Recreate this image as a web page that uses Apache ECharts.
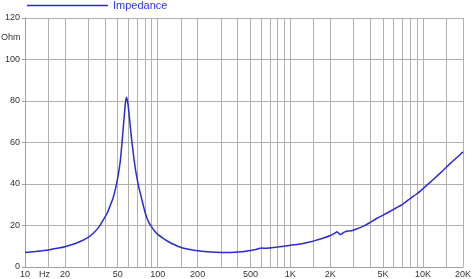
<!DOCTYPE html>
<html>
<head>
<meta charset="utf-8">
<script src="https://cdn.jsdelivr.net/npm/echarts@6/dist/echarts.min.js"></script>
<style>
html,body{margin:0;padding:0;background:#fff;}
#c{width:474px;height:279px;}
</style>
</head>
<body>
<div id="c"></div>
<script>
// Frequencies (Hz) and impedance (Ohm)
const freqs = [10,12,15,17.5,20,25,30,33,36,39,42,44,46,48,50,52,53,54,55,56,57,58,59,60,61,62,63,64,66,68,70,72,75,78,81,85,90,95,100,110,120,135,150,175,200,250,300,350,400,450,500,550,580,610,650,700,800,900,1000,1200,1400,1600,1800,2000,2150,2250,2330,2400,2550,2700,2900,3200,3600,4000,4500,5000,6000,7000,8000,9000,10000,12000,14000,16000,18000,20000];
const impedance = [7.0,7.5,8.2,9.0,9.8,11.8,14.3,16.5,19.2,22.8,26.5,29.8,33,37.5,43,50,55,61,67,73,78.5,81.8,80.5,77.5,73,68.5,64,60,53,47,42.5,38.5,34,29.5,25.5,22,19.3,17.2,15.7,13.8,12.3,10.6,9.4,8.4,7.8,7.2,7.0,7.0,7.2,7.5,8.0,8.4,8.9,9.1,9.0,9.2,9.6,10.0,10.5,11.1,12.0,13.1,14.1,15.2,16.2,17.0,16.0,15.7,16.8,17.3,17.5,18.5,19.8,21.5,23.5,25,27.8,30.2,33,35.3,37.8,42.3,46.3,49.8,52.8,55.5];
const gridFreqs = [10,15,20,30,40,50,60,70,80,90,100,150,200,300,400,500,600,700,800,900,1000,1500,2000,3000,4000,5000,6000,7000,8000,9000,10000,15000,20000];
const xLabelValues = [10,14,20,50,100,200,500,1000,2000,5000,10000,20000];
const xLabelTexts = ['10','Hz','20','50','100','200','500','1K','2K','5K','10K','20K'];
const yTicks = [0,20,40,60,80,100,120];
const seriesName = 'Impedance';
const yUnit = 'Ohm';

const chart = echarts.init(document.getElementById('c'), null, {renderer:'canvas'});
const data = freqs.map((f,i)=>[f, impedance[i]]);
function labelFor(v){
  let best=0, bd=Infinity;
  xLabelValues.forEach((x,i)=>{const d=Math.abs(Math.log10(x)-Math.log10(v)); if(d<bd){bd=d;best=i;}});
  return bd<0.01 ? xLabelTexts[best] : '';
}
const font = 'Liberation Sans, Arial, sans-serif';
chart.setOption({
  animation:false,
  backgroundColor:'#fff',
  textStyle:{fontFamily:font},
  grid:{left:25,right:7,top:18,bottom:12,containLabel:false},
  legend:{
    show:true,left:27,top:0,padding:0,
    icon:'rect',itemWidth:81,itemHeight:1.5,itemGap:5,
    textStyle:{color:'#3333ee',fontSize:11,fontFamily:font,padding:[1,0,0,0]},
    data:[seriesName]
  },
  xAxis:{
    type:'log',logBase:10,min:10,max:20000,
    axisLine:{show:true,lineStyle:{color:'#a0a0a0',width:1}},
    axisTick:{show:false,customValues:gridFreqs},
    splitLine:{show:true,lineStyle:{color:'#b0b0b0',width:1}},
    minorTick:{show:false},minorSplitLine:{show:false},
    axisLabel:{customValues:xLabelValues,formatter:v=>labelFor(v),color:'#333',fontSize:9,margin:3,fontFamily:font,showMinLabel:true,showMaxLabel:true,hideOverlap:false}
  },
  yAxis:{
    type:'value',min:0,max:120,interval:20,
    axisLine:{show:true,lineStyle:{color:'#a0a0a0',width:1}},
    axisTick:{show:true,length:3,lineStyle:{color:'#a0a0a0'}},
    splitLine:{show:true,lineStyle:{color:'#b0b0b0',width:1}},
    axisLabel:{color:'#333',fontSize:9,margin:5,fontFamily:font}
  },
  graphic:[{type:'text',left:1,top:33,style:{text:yUnit,fill:'#333',font:'9px '+font}}],
  series:[{
    name:seriesName,type:'line',data:data,showSymbol:false,smooth:0.15,
    lineStyle:{color:'#2a2ad8',width:1.5},itemStyle:{color:'#2a2ad8'}
  }]
});
</script>
</body>
</html>
